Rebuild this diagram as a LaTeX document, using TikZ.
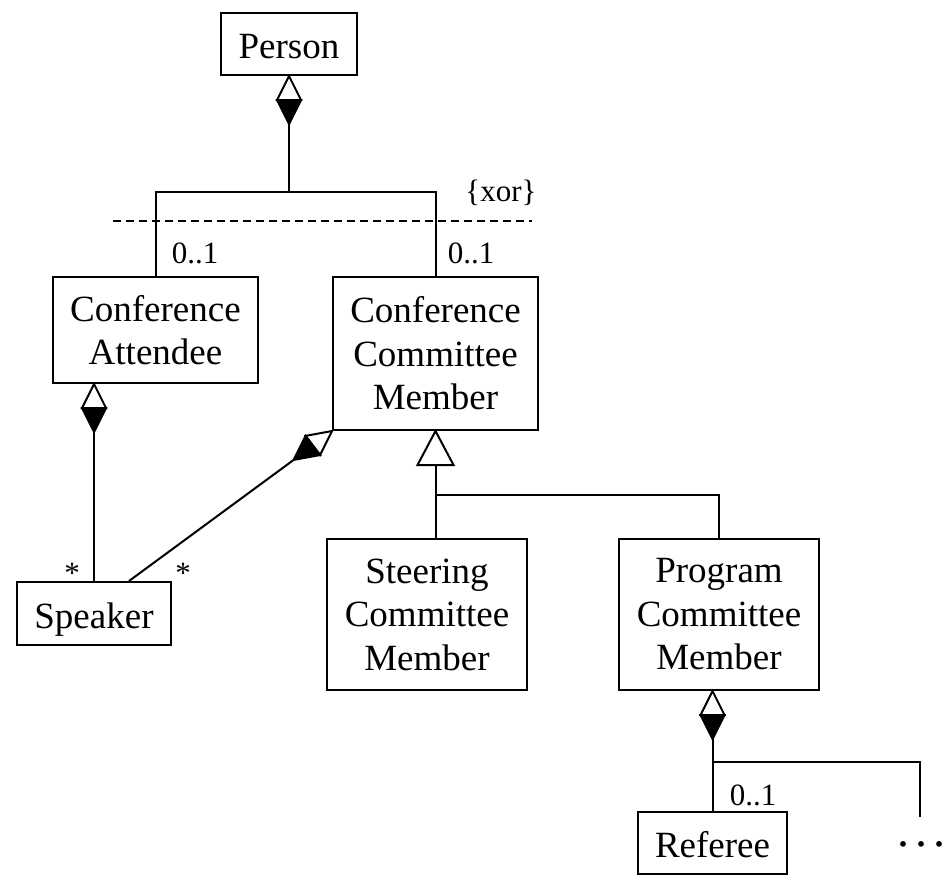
\documentclass[tikz,border=0pt]{standalone}
\usepackage{fontspec}
\setmainfont{Liberation Serif}

% composition diamond: top point, rotation, name of the tip
\newcommand{\compdiam}[3]{%
    \begin{scope}[shift={(#1)}, rotate=#2]
        \filldraw[fill=white] (0,0) -- (-12,24) -- (12,24) -- cycle;
        \filldraw[fill=black] (-12,24) -- (0,48) -- (12,24) -- cycle;
        \coordinate (#3) at (0,48);
    \end{scope}}

\begin{document}
\begin{tikzpicture}[x=0.5pt, y=-0.5pt, line width=1pt,
    umlbox/.style={draw, align=center, inner sep=0pt, font=\fontsize{18.5}{21.75}\selectfont},
    onebox/.style={umlbox, text height=14.5pt, text depth=0pt},
    mult/.style={inner sep=0pt, font=\fontsize{15.5}{18}\selectfont}]
    \useasboundingbox (0,0) rectangle (946,890);

    \node[onebox, minimum width=68pt, minimum height=31pt] (person) at (289,44) {Person};
    \node[umlbox, minimum width=102.5pt, minimum height=53pt] (attendee) at (155.5,330) {Conference\\Attendee};
    \node[umlbox, minimum width=102.5pt, minimum height=76.5pt] (member) at (435.5,353.5) {Conference\\Committee\\Member};
    \node[onebox, minimum width=77pt, minimum height=31.5pt] (speaker) at (94,613.5) {Speaker};
    \node[umlbox, minimum width=100pt, minimum height=75.5pt] (steering) at (427,614.5) {Steering\\Committee\\Member};
    \node[umlbox, minimum width=100pt, minimum height=75.5pt] (program) at (719,614.5) {Program\\Committee\\Member};
    \node[onebox, minimum width=74.5pt, minimum height=31pt] (referee) at (712.5,843) {Referee};
    \node[draw=none, inner sep=0pt, anchor=base, font=\fontsize{24}{24}\selectfont] (more) at (921,846) {.\kern3pt.\kern3pt.};

    % person and the xor
    \compdiam{person.south}{0}{persontip}
    \coordinate (xorjoin) at (289,192);
    \coordinate (xorleft) at (113,221);
    \coordinate (xorright) at (532,221);
    \draw (persontip) -- (xorjoin);
    \draw (attendee.north) |- (xorjoin) -| (member.north);
    \draw[dash pattern=on 4pt off 2.5pt] (xorleft) -- (xorright);
    \node[mult] (xor) at (501,193) {\{xor\}};
    \node[mult] (multa) at (195,253) {0..1};
    \node[mult] (multb) at (471,253) {0..1};

    % speaker
    \compdiam{attendee.south -| speaker.north}{0}{attendeetip}
    \draw (attendeetip) -- (speaker.north);
    \compdiam{member.south west}{-53}{membertip}
    \draw (membertip) -- ([xshift=17.5pt]speaker.north);
    \node[mult] (stara) at (72,573) {*};
    \node[mult] (starb) at (183,573) {*};

    % committees
    \coordinate (genrow) at (0,495);
    \path (member.south) ++(0,34) coordinate (genbase);
    \draw[fill=white] (member.south) -- ([xshift=9pt]genbase) -- ([xshift=-9pt]genbase) -- cycle;
    \draw (genbase) -- (genbase |- steering.north);
    \draw (genbase |- genrow) -| (program.north);

    % referee
    \compdiam{program.south -| referee.north}{0}{programtip}
    \coordinate (morejoin) at (920,762);
    \coordinate (moreend) at (920,817);
    \draw (programtip) -- (referee.north);
    \draw (referee.north |- morejoin) -| (moreend);
    \node[mult] (multc) at (753,795) {0..1};
\end{tikzpicture}
\end{document}
